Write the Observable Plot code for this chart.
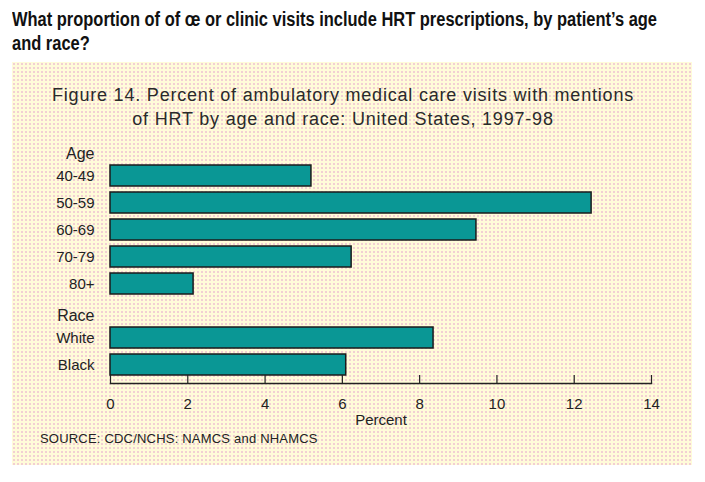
<!DOCTYPE html>
<html>
<head>
<meta charset="utf-8">
<script src="https://cdn.jsdelivr.net/npm/d3@7"></script>
<script src="https://cdn.jsdelivr.net/npm/@observablehq/plot@0.6"></script>
<style>
  html, body { margin: 0; padding: 0; background: #ffffff; }
  body { width: 705px; height: 482px; position: relative; overflow: hidden; }
  #heading {
    position: absolute; left: 12px; top: 7px;
    font-family: "Liberation Sans", Arial, sans-serif;
    font-weight: bold; font-size: 20px; line-height: 24px; color: #111;
    white-space: nowrap;
  }
  #heading span { display: inline-block; transform-origin: 0 0; }
  #panel {
    position: absolute; left: 12px; top: 62px; width: 680px; height: 403px;
    background-color: #fffbd9;
    background-image: radial-gradient(circle, #f2cfd3 0.9px, transparent 1.3px);
    background-size: 4px 4px;
  }
  #figtitle {
    position: absolute; left: 0; top: 21px; width: 662px; text-align: center;
    font-family: "Liberation Sans", Arial, sans-serif; font-size: 18px; line-height: 24px;
    color: #2a2a2a; letter-spacing: 0.8px;
  }
  #chart { position: absolute; left: 0; top: 64px; }
  #source {
    position: absolute; left: 28px; top: 369px;
    font-family: "Liberation Sans", Arial, sans-serif; font-size: 13px;
    color: #222; letter-spacing: 0.2px;
  }
</style>
</head>
<body>
<div id="heading"><span id="h1">What proportion of of œ or clinic visits include HRT prescriptions, by patient’s age</span><br><span id="h2">and race?</span></div>
<div id="panel">
  <div id="figtitle">Figure 14. Percent of ambulatory medical care visits with mentions<br>of HRT by age and race: United States, 1997-98</div>
  <div id="chart"></div>
  <div id="source">SOURCE: CDC/NCHS: NAMCS and NHAMCS</div>
</div>
<script>
// Row order (including group header rows)
const rows = ["Age", "40-49", "50-59", "60-69", "70-79", "80+", "Race", "White", "Black"];
const headers = ["Age", "Race"];
const categories = ["40-49", "50-59", "60-69", "70-79", "80+", "White", "Black"];
const percents = [5.2, 12.45, 9.47, 6.24, 2.15, 8.36, 6.1];
const xTicks = [0, 2, 4, 6, 8, 10, 12, 14];
const xLabel = "Percent";

const data = categories.map((c, i) => ({category: c, value: percents[i]}));

// condense the heading to the reference's narrow bold face
const h1 = document.getElementById("h1");
const sx = 645 / h1.getBoundingClientRect().width;
h1.style.transform = `scaleX(${sx})`;
document.getElementById("h2").style.transform = `scaleX(${sx})`;

const chart = Plot.plot({
  width: 680,
  height: 321,
  marginLeft: 98,
  marginRight: 41,
  marginTop: 4,
  marginBottom: 64,
  style: {
    background: "transparent",
    fontFamily: "Liberation Sans, Arial, sans-serif",
    fontSize: "15px",
    color: "#222"
  },
  x: {domain: [0, 14]},
  y: {domain: rows, paddingInner: 0.23, paddingOuter: 0.26},
  marks: [
    Plot.barX(data, {
      x: "value", y: "category",
      fill: "#0a9795", stroke: "#1b1b1b", strokeWidth: 1.5
    }),
    Plot.axisY({
      tickSize: 0, tickPadding: 16, label: null, fontSize: 15,
      tickFormat: d => headers.includes(d) ? "" : d
    }),
    Plot.text(headers, {
      y: d => d, frameAnchor: "left", textAnchor: "end",
      dx: -16, dy: 5, fill: "#222", fontSize: 16
    }),
    Plot.frame({anchor: "bottom", stroke: "#222", strokeWidth: 1.5}),
    Plot.axisX({ticks: xTicks, tickSize: -8, label: null, tickFormat: () => "", stroke: "#222", strokeWidth: 1.2}),
    Plot.axisX({ticks: xTicks, tickSize: 0, tickPadding: 15, label: null, fontSize: 15, tickFormat: d => String(d)}),
    Plot.text([xLabel], {
      x: () => 7, frameAnchor: "bottom", dy: 41, fill: "#222", fontSize: 15
    })
  ]
});
document.getElementById("chart").appendChild(chart);
</script>
</body>
</html>
